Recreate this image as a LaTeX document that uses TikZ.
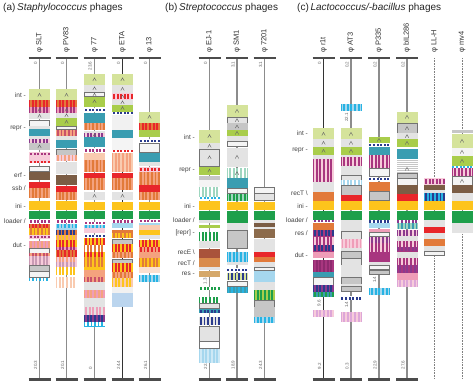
\documentclass[tikz,border=0pt]{standalone}
\usepackage{fontspec}
\setmainfont{Liberation Sans}
\definecolor{lgr}{HTML}{D5E39B}
\definecolor{lime}{HTML}{A9CD4B}
\definecolor{lgy}{HTML}{E3E3E3}
\definecolor{gry}{HTML}{C6C6C6}
\definecolor{wbx}{HTML}{F4F4F4}
\definecolor{cR}{HTML}{E8262A}
\definecolor{cO}{HTML}{E27A3A}
\definecolor{cS}{HTML}{F4A27E}
\definecolor{cP}{HTML}{F9CBB0}
\definecolor{cY}{HTML}{FDC41C}
\definecolor{cG}{HTML}{1E9F4B}
\definecolor{cT}{HTML}{3A9DB1}
\definecolor{cB}{HTML}{7B5D45}
\definecolor{cBb}{HTML}{8C6B4C}
\definecolor{cM}{HTML}{A8367F}
\definecolor{cMd}{HTML}{8E2A6E}
\definecolor{cU}{HTML}{8B3A8E}
\definecolor{cK}{HTML}{EF9DB8}
\definecolor{cL}{HTML}{F7CCDA}
\definecolor{cN}{HTML}{2A3B8D}
\definecolor{cC}{HTML}{27B3E3}
\definecolor{cLB}{HTML}{A6D7EE}
\definecolor{cPB}{HTML}{BBD5EE}
\definecolor{cMi}{HTML}{9FD6BF}
\definecolor{cRo}{HTML}{C8506A}
\definecolor{cMv}{HTML}{C99AB4}
\definecolor{cLP}{HTML}{DDA6D8}
\definecolor{cRB}{HTML}{A9533B}
\definecolor{cTn}{HTML}{D98B4B}
\definecolor{cLT}{HTML}{D5A86A}
\newcommand\Bx[3]{\fill[#3] (-10.5,#1) rectangle (10.5,#2);}
\newcommand\Sx[4]{\fill[#3] (-10.5,#1) rectangle (10.5,#2);\foreach \k in {0,...,5}{\fill[#4] ({-9.4+\k*3.6},#1) rectangle ({-7.8+\k*3.6},#2);}}
\newcommand\Dx[4]{\fill[#3] (-10.5,#1) rectangle (10.5,#2);\foreach \k in {0,...,5}{\fill[#4] ({-9.6+\k*3.6},{#1+0.5}) rectangle ({-7.6+\k*3.6},{#2-0.5});}}
\newcommand\Ox[3]{\filldraw[fill=#3,draw=black!55,line width=0.6pt] (-10,#1) rectangle (10,#2);}
\newcommand\Cr[1]{\draw[black!60,line width=0.45pt] (-1.7,{#1+1.4}) -- (0,{#1-1.6}) -- (1.7,{#1+1.4});}
\tikzset{
 gl/.style={draw=black!45,line width=1.3pt},
 bl/.style={draw=black!80,line width=1.3pt},
 dl/.style={draw=black!50,line width=0.8pt,dash pattern=on 0.8pt off 0.8pt},
 tbar/.style={draw=black!70,line width=2pt},
 bbar/.style={draw=black!70,line width=3pt},
 phl/.style={rotate=90,anchor=west,inner sep=0pt,font=\fontsize{7.5}{8}\selectfont,text=black!80},
 num/.style={rotate=90,inner sep=0pt,font=\fontsize{4.5}{5}\selectfont,text=black!60},
 lab/.style={anchor=east,inner sep=0pt,font=\fontsize{6.5}{7}\selectfont,text=black!75},
 ttl/.style={anchor=base west,inner sep=0pt,font=\fontsize{10}{11}\selectfont,text=black!85}
}
\begin{document}
\begin{tikzpicture}[x=1pt,y=-1pt]
\fill[white] (0,0) rectangle (474,382);
\useasboundingbox (0,0) rectangle (474,382);
% titles
\node[ttl] (ta) at (3,10.5) {(a)\,\textit{Staphylococcus} phages};
\node[ttl] (tb) at (165,10.5) {(b)\,\textit{Streptococcus} phages};
\node[ttl] (tc) at (297,10.5) {(c)\,\textit{Lactococcus/-bacillus} phages};
% left labels (a)
\node[lab] (a1) at (26,95) {int -};
\node[lab] (a2) at (26,128) {repr -};
\node[lab] (a3) at (26,175) {erf -};
\node[lab] (a4) at (26,188) {ssb /};
\node[lab] (a5) at (26,206) {ini -};
\node[lab] (a6) at (26,221.5) {loader /};
\node[lab] (a7) at (26,245) {dut -};
% left labels (b)
\node[lab] (b1) at (195,136.7) {int -};
\node[lab] (b2) at (195,170) {repr -};
\node[lab] (b3) at (195,206) {ini -};
\node[lab] (b4) at (195,220) {loader /};
\node[lab] (b5) at (195,232.7) {[repr] -};
\node[lab] (b6) at (195,252) {recE \textbackslash};
\node[lab] (b7) at (195,263.3) {recT /};
\node[lab] (b8) at (195,273.3) {res -};
% left labels (c)
\node[lab] (c1) at (308,132.7) {int -};
\node[lab] (c2) at (308,150.7) {repr -};
\node[lab] (c3) at (308,193.3) {recT \textbackslash};
\node[lab] (c4) at (308,206) {ini -};
\node[lab] (c5) at (308,220) {loader /};
\node[lab] (c6) at (308,232.7) {res /};
\node[lab] (c7) at (308,255) {dut -};
% ---------- SLT
\begin{scope}[xshift=39.5pt]
\draw[gl] (0,58) -- (0,379);
\draw[tbar] (-11,58) -- (11,58);
\draw[bbar] (-11,379.5) -- (11,379.5);
\node[phl] (pSLT) at (0,53) {φ SLT};
\node[num,anchor=east] (tSLT) at (-4,61.5) {0};
\node[num,anchor=west] (bSLT) at (-4,369.5) {20.3};
\Bx{89}{100.5}{lgr}\Cr{95}
\Sx{100.5}{106.7}{cR}{cO}
\Sx{106.7}{113}{cM}{cK}\Cr{110}
\Bx{113}{119}{lgy}\Cr{116}
\Ox{120}{126}{wbx}
\Bx{126}{129}{lgy}
\Bx{129}{136}{cT}
\Bx{136}{139.5}{lgy}
\Sx{139.5}{143}{cU}{cL}
\Bx{143}{150}{gry}\Cr{146.5}
\Dx{152.5}{155.5}{cL}{cM}
\Bx{155.5}{160.5}{cL}
\Dx{160.5}{163.5}{cL}{cR}
\Ox{166}{171.7}{wbx}
\Bx{172}{180}{cB}
\Bx{182}{188.5}{cR}
\Sx{188.5}{198}{cO}{cS}
\Bx{200.7}{210}{cY}
\Bx{211}{219.5}{cG}
\Dx{220}{223.5}{white}{cM}
\Sx{224}{228}{cR}{cO}
\Sx{228}{235}{cY}{cO}
\Dx{235.5}{238.7}{cL}{cM}
\Sx{241.5}{248}{cK}{cS}
\Ox{248}{253}{wbx}
\Sx{253}{256.5}{cRo}{cS}
\Sx{256.5}{265}{cMv}{cL}
\Ox{265}{271.5}{gry}
\Ox{271.5}{277.3}{wbx}
\Dx{277.5}{281}{cC}{white}
\end{scope}
% ---------- PV83
\begin{scope}[xshift=66.5pt]
\draw[gl] (0,58) -- (0,379);
\draw[tbar] (-11,58) -- (11,58);
\draw[bbar] (-11,379.5) -- (11,379.5);
\node[phl] (pPV) at (0,53) {φ PV83};
\node[num,anchor=east] (tPV) at (-4,61.5) {0};
\node[num,anchor=west] (bPV) at (-4,369.5) {20.1};
\Bx{89}{100.5}{lgr}\Cr{95}
\Sx{100.5}{106.7}{cR}{cO}
\Sx{106.7}{113}{cM}{cK}\Cr{110}
\Bx{113}{118}{lgy}\Cr{115.5}
\Bx{118}{126}{lime}\Cr{122}
\Ox{126.5}{129.5}{wbx}
\Sx{130}{136.5}{cS}{cRo}
\Bx{136.5}{140}{lgy}
\Bx{140}{148.5}{cT}
\Ox{149}{155}{gry}
\Sx{155.5}{161.5}{cL}{cS}
\Bx{162}{174.5}{lgy}
\Bx{175}{185}{cB}
\Bx{186}{191.7}{cR}
\Sx{191.7}{200}{cO}{cS}
\Bx{201.5}{210.5}{cY}
\Bx{211.5}{219.5}{cG}
\Dx{220}{223.3}{white}{cM}
\Sx{224}{228}{cLB}{cC}
\Bx{228}{230}{cLB}
\Sx{230}{235}{cN}{cO}
\Sx{235}{240}{cY}{cS}
\Sx{240}{246.7}{cR}{cY}
\Sx{246.7}{250}{cM}{cK}
\Sx{250}{256.7}{cO}{cR}
\Sx{256.7}{261.7}{cS}{cL}
\Sx{261.7}{266.7}{cMv}{cL}
\Sx{266.7}{275}{cY}{white}
\Sx{276.7}{287.5}{cP}{white}
\end{scope}
% ---------- 77
\begin{scope}[xshift=94.5pt]
\draw[gl] (0,58) -- (0,379);
\draw[tbar] (-11,58) -- (11,58);
\draw[bbar] (-11,379.5) -- (11,379.5);
\node[phl] (p77) at (0,53) {φ 77};
\node[num,anchor=east] (t77) at (-4.5,61.5) {23.6};
\node[num,anchor=west] (b77) at (-4,369.5) {0};
\Bx{74}{85}{lgr}\Cr{79.5}
\Bx{85}{92}{lgy}\Cr{88.5}
\Ox{92.5}{96.7}{wbx}\Cr{94.8}
\Bx{96.7}{106.7}{lime}\Cr{101.5}
\Dx{108.3}{111.7}{white}{cN}
\Bx{113.3}{123.3}{cT}
\Sx{123.3}{130}{cS}{cO}
\Bx{131.5}{133.5}{lgy}
\Sx{133.5}{137}{cU}{cL}\Cr{135.3}
\Bx{137.3}{146.7}{cT}
\Dx{148.3}{152.5}{white}{cM}
\Bx{153}{160}{cP}
\Sx{160}{171.7}{cS}{cO}
\Bx{172.7}{178.3}{cR}
\Sx{178.3}{190}{cO}{cS}
\Bx{191.7}{200}{lgy}\Cr{196}
\Bx{201.7}{210}{cY}
\Bx{211}{219.3}{cG}
\Dx{221.7}{225}{white}{cM}
\Sx{225}{228}{cLB}{cC}
\Bx{228}{233}{cL}
\Dx{235}{238}{white}{cN}
\Sx{238}{245}{cY}{cR}
\Sx{245}{251.7}{cO}{white}
\Sx{251.7}{256.7}{cR}{cY}
\Sx{256.7}{266.7}{cO}{cY}
\Bx{266.7}{270}{cY}
\Bx{270}{276.7}{cS}
\Sx{276.7}{281.7}{cRo}{cS}
\Bx{281.7}{290}{lgy}
\Sx{290}{298.3}{cS}{cK}
\Bx{298.3}{306.7}{lgy}
\Dx{306.7}{315}{lgy}{cK}
\Sx{315}{321.7}{cN}{cU}
\Dx{321.7}{326.7}{cC}{white}
\end{scope}
% ---------- ETA
\begin{scope}[xshift=122.5pt]
\draw[bl] (0,58) -- (0,379);
\draw[tbar] (-11,58) -- (11,58);
\draw[bbar] (-11,379.5) -- (11,379.5);
\node[phl] (pETA) at (0,53) {φ ETA};
\node[num,anchor=east] (tETA) at (-4,61.5) {0};
\node[num,anchor=west] (bETA) at (-4,369.5) {24.4};
\Bx{74}{85}{lgr}\Cr{79.5}
\Bx{85}{93.3}{lgy}\Cr{89}
\Dx{93.3}{100}{cL}{cR}\Cr{96.7}
\Bx{100}{105}{lgy}\Cr{102.5}
\Bx{105}{111.7}{lime}\Cr{108.3}
\Dx{111.7}{115}{white}{cN}
\Bx{115}{130}{lgy!50!white}
\Bx{130}{138.3}{cT}
\Bx{138.3}{150}{wbx}
\Dx{150}{152.7}{white}{cR}
\Sx{153}{171.7}{cS}{cP}
\Bx{173.3}{178.3}{cR}
\Sx{178.3}{190}{cO}{cS}
\Bx{191.7}{200}{lgy}\Cr{196}
\Bx{201.7}{210}{cY}
\Bx{211}{219.3}{cG}
\Dx{220}{223.3}{white}{cM}
\Bx{223.3}{228}{cLB}
\Bx{230}{233}{cO}
\Sx{233}{238}{cY}{cO}
\Ox{239}{244}{gry}
\Sx{244}{251.7}{cR}{cY}
\Sx{251.7}{258.3}{cS}{cO}
\Ox{259.3}{263.3}{gry}
\Sx{263.3}{271.7}{cR}{cY}
\Sx{271.7}{278.3}{cS}{cO}
\Sx{278.3}{286.7}{cY}{cP}
\Bx{286.7}{293.3}{lgy!50!white}
\Bx{293.3}{306.7}{cPB}
\end{scope}
% ---------- 13
\begin{scope}[xshift=149.5pt]
\draw[gl] (0,58) -- (0,379);
\draw[tbar] (-11,58) -- (11,58);
\draw[bbar] (-11,379.5) -- (11,379.5);
\node[phl] (p13) at (0,53) {φ 13};
\node[num,anchor=east] (t13) at (-4,61.5) {0};
\node[num,anchor=west] (b13) at (-4,369.5) {26.1};
\Bx{111.7}{123.3}{lgr}\Cr{117}
\Sx{123.3}{130}{cR}{cO}
\Bx{130}{136.7}{lime}
\Dx{139.3}{142.7}{white}{cN}
\Ox{143.3}{152.7}{wbx}
\Bx{152.7}{161.7}{cT}
\Bx{161.7}{166}{lgy}
\Dx{167.3}{171.7}{cL}{cR}
\Sx{171.7}{185}{cS}{cO}
\Bx{185}{191.7}{cR}
\Sx{191.7}{200}{cO}{cS}
\Bx{201.7}{210}{cY}
\Bx{211}{219.3}{cG}
\Dx{220}{223}{white}{cM}
\Bx{223}{225}{cLB}
\Bx{225}{230}{cP}
\Bx{230}{235}{cY}
\Bx{235}{239}{lgy}
\Sx{240}{246.7}{cR}{cY}
\Sx{246.7}{251.7}{cS}{cR}
\Bx{251.7}{258.3}{cS}
\Sx{258.3}{266.7}{cO}{cY}
\Bx{266.7}{273.3}{cP!60!white}
\Sx{275}{281.7}{cC}{cLB}
\end{scope}
% ---------- EJ-1
\begin{scope}[xshift=209.5pt]
\draw[gl] (0,58) -- (0,379);
\draw[tbar] (-11,58) -- (11,58);
\draw[bbar] (-11,379.5) -- (11,379.5);
\node[phl] (pEJ) at (0,53) {φ EJ-1};
\node[num,anchor=east] (tEJ) at (-4,61.5) {0};
\node[num,anchor=west] (bEJ) at (-4,369.5) {22.1};
\node[num,anchor=east] (mEJ) at (-4.5,278) {1.3};
\Bx{130}{142.7}{lgr}\Cr{136.3}
\Bx{142.7}{149.3}{lgy}\Cr{146}
\Ox{149.3}{166}{lgy}\Cr{157.5}
\Bx{166.7}{175}{lime}\Cr{170.8}
\Bx{176}{180}{gry}
\Bx{180}{186.7}{wbx}
\Sx{187.3}{196.7}{cMi}{white}
\Dx{196.7}{200}{white}{cC}
\Bx{200.7}{210}{cY}
\Bx{211}{220}{cG}
\Bx{220}{223.3}{lgy}
\Bx{225}{228.3}{lime}
\Sx{231.7}{240.7}{cG}{white}
\Bx{240.7}{248.3}{lgy}
\Bx{249.3}{258.3}{cRB}
\Bx{258.3}{266.7}{cTn}
\Bx{266.7}{270}{lgy}
\Bx{270.7}{276.7}{cLT}
\Dx{286.7}{290}{white}{cG}
\Sx{296.7}{303.3}{cG}{white}
\Ox{303.3}{308.3}{lgy}
\Dx{309.3}{313.3}{cT}{cN}
\Sx{316.7}{325}{lgy}{cN}
\Ox{326}{341.7}{lgy}
\Ox{341.7}{348.3}{white}
\Sx{349.3}{363.3}{cLB}{cLB!55!white}
\end{scope}
% ---------- SM1
\begin{scope}[xshift=237pt]
\draw[gl] (0,58) -- (0,379);
\draw[tbar] (-11,58) -- (11,58);
\draw[bbar] (-11,379.5) -- (11,379.5);
\node[phl] (pSM) at (0,53) {φ SM1};
\node[num,anchor=east] (tSM) at (-4,61.5) {3.1};
\node[num,anchor=west] (bSM) at (-4,369.5) {18.9};
\Bx{105}{117.3}{lgr}\Cr{111}
\Ox{117.3}{123.3}{lgy}\Cr{120.3}
\Bx{123.3}{130}{gry}\Cr{126.7}
\Bx{130}{136}{lime}\Cr{133}
\Bx{136}{141.7}{lgy}
\Ox{141.7}{146.7}{wbx}
\Bx{148.3}{166.7}{lgy}\Cr{157}
\Sx{168.3}{178.3}{cMi}{white}\Cr{173.3}
\Bx{178.3}{188.3}{cT}
\Ox{188.3}{193.3}{wbx}
\Sx{194}{200.7}{cG}{cMi}
\Bx{201.7}{210}{cY}
\Bx{211}{223}{cG}
\Bx{223}{230}{lgy}
\Ox{230}{248.3}{gry}
\Sx{251.7}{261.7}{cC}{cLB}
\Bx{261.7}{265}{lgy}
\Dx{268.3}{271.7}{white}{cN}
\Sx{272.7}{280}{lgr}{cN}
\Ox{281.7}{286.7}{wbx}
\Sx{286.7}{293.3}{cT}{cC}
\end{scope}
% ---------- 7201
\begin{scope}[xshift=264.5pt]
\draw[gl] (0,58) -- (0,379);
\draw[tbar] (-11,58) -- (11,58);
\draw[bbar] (-11,379.5) -- (11,379.5);
\node[phl] (p72) at (0,53) {φ 7201};
\node[num,anchor=east] (t72) at (-4,61.5) {3.1};
\node[num,anchor=west] (b72) at (-4,369.5) {24.3};
\Ox{187.3}{193.3}{wbx}
\Ox{193.3}{200}{lgy}
\Bx{201.7}{210}{cY}
\Bx{211}{220}{cG}
\Bx{220}{223.3}{lgy}
\Bx{223.3}{226.7}{cB}
\Bx{226.7}{229.3}{lgy}
\Bx{229.3}{238.3}{cBb}
\Bx{239.3}{251.7}{lgy}
\Bx{251.7}{257.3}{cR}
\Bx{257.3}{261.7}{cO}
\Bx{261.7}{266.7}{lgy}
\Ox{267.3}{270}{wbx}
\Bx{270.7}{281.7}{cLB}
\Bx{281.7}{290}{lgy}
\Sx{290}{300.7}{cG}{lime}
\Ox{300.7}{307.3}{gry}
\Bx{307.3}{316.7}{gry}
\Sx{316.7}{322.7}{cC}{cLB}
\end{scope}
% ---------- r1t
\begin{scope}[xshift=323.5pt]
\draw[bl] (0,58) -- (0,379);
\draw[tbar] (-11,58) -- (11,58);
\draw[bbar] (-11,379.5) -- (11,379.5);
\node[phl] (pr1) at (0,53) {φ r1t};
\node[num,anchor=east] (tr1) at (-4,61.5) {0};
\node[num,anchor=west] (br1) at (-4,369.5) {9.2};
\node[num,anchor=east] (mr1) at (-4.5,300) {9.6};
\Bx{128.3}{139.3}{lgr}\Cr{134}
\Bx{139.3}{146.7}{lgy}\Cr{143}
\Bx{146.7}{155}{lime}\Cr{151}
\Bx{155}{159.3}{lgy}
\Sx{159.3}{181.7}{cM}{cL}
\Bx{181.7}{191.7}{lgy}
\Bx{191.7}{200.7}{cO}
\Bx{200.7}{210}{cY}
\Bx{211}{220}{cG}
\Dx{220}{222.7}{white}{cU}
\Bx{222.7}{230}{cO}
\Dx{230}{236.7}{cM}{cN}
\Sx{236.7}{245}{cM}{cL}
\Dx{245}{251.7}{cM}{cN}
\Bx{251.7}{258.3}{cK}
\Sx{260}{271.7}{cMd}{cM}
\Bx{271.7}{277.3}{cT}
\Ox{277.3}{285}{wbx}
\Sx{285}{291.7}{cN}{cU}
\Sx{291.7}{297.3}{cT}{cG}
\Sx{310}{316.7}{cLP}{cL}
\end{scope}
% ---------- AT3
\begin{scope}[xshift=351pt]
\draw[gl] (0,58) -- (0,379);
\draw[tbar] (-11,58) -- (11,58);
\draw[bbar] (-11,379.5) -- (11,379.5);
\node[phl] (pAT) at (0,53) {φ AT3};
\node[num,anchor=east] (tAT) at (-4,61.5) {0.2};
\node[num,anchor=west] (bAT) at (-4,369.5) {0.3};
\node[num,anchor=east] (mAT) at (-4.5,113) {22.1};
\node[num,anchor=east] (nAT) at (-4.5,301.5) {1.4};
\Sx{104.5}{110.7}{cC}{cLB}
\Bx{128.3}{139.3}{lgr}\Cr{134}
\Bx{139.3}{146.7}{lgy}\Cr{143}
\Bx{146.7}{155}{lime}\Cr{151}
\Bx{155}{156.7}{lgy}
\Sx{156.7}{166}{cM}{cL}
\Bx{166}{175}{lgy}
\Ox{175}{180}{lgy}
\Sx{180}{185}{cLB}{white}
\Ox{185}{195}{gry}
\Bx{195}{200.7}{cR}
\Bx{200.7}{210}{cY}
\Bx{211}{220}{cG}
\Bx{220}{231.7}{lgy}
\Ox{231.7}{239.3}{lgy}
\Sx{239.3}{248.3}{cL}{cK}
\Bx{248.3}{251.7}{lgy}
\Ox{251.7}{258.3}{gry}
\Ox{258.3}{265}{lgy}
\Bx{265}{276.7}{lgy}
\Ox{277.3}{284}{gry}
\Bx{284}{286.7}{lgy}
\Ox{286.7}{291.7}{gry}
\Dx{296}{300}{white}{cN}
\Sx{311.7}{321.7}{cLP}{cL}
\end{scope}
% ---------- P335
\begin{scope}[xshift=379pt]
\draw[gl] (0,58) -- (0,379);
\draw[tbar] (-11,58) -- (11,58);
\draw[bbar] (-11,379.5) -- (11,379.5);
\node[phl] (pP3) at (0,53) {φ P335};
\node[num,anchor=east] (tP3) at (-4,61.5) {0.2};
\node[num,anchor=west] (bP3) at (-4,369.5) {22.9};
\node[num,anchor=east] (mP3) at (-4.5,276.5) {1.4};
\Bx{136.7}{143.3}{lime}\Cr{140}
\Dx{143.3}{146.7}{white}{cN}
\Bx{146.7}{155}{cT}
\Sx{155}{168.3}{cM}{cL}
\Ox{168.3}{176.7}{wbx}
\Dx{177.7}{180.7}{white}{cN}
\Bx{181.7}{191.7}{cO}
\Ox{191.7}{200.7}{gry}
\Bx{200.7}{210}{cY}
\Bx{211}{220}{cG}
\Dx{220}{223.3}{white}{cN}
\Bx{223.3}{228.3}{cLB}
\Bx{229}{231.7}{cK}
\Ox{232.7}{236.7}{wbx}
\Sx{236.7}{243.3}{cU}{cL}
\Sx{243.3}{251.7}{cM}{cL}
\Bx{251.7}{261.7}{cM}
\Bx{261.7}{265}{lgy}
\Ox{265}{269}{wbx}
\Ox{270}{274}{gry}
\Sx{288.3}{295}{cC}{cLB}
\end{scope}
% ---------- bIL286
\begin{scope}[xshift=407pt]
\draw[gl] (0,58) -- (0,379);
\draw[tbar] (-11,58) -- (11,58);
\draw[bbar] (-11,379.5) -- (11,379.5);
\node[phl] (pbI) at (0,53) {φ bIL286};
\node[num,anchor=east] (tbI) at (-4,61.5) {0.2};
\node[num,anchor=west] (bbI) at (-4,369.5) {27.6};
\Bx{111.7}{122.7}{lgr}\Cr{117}
\Ox{123.3}{133.3}{gry}\Cr{128.3}
\Bx{133.3}{139.3}{lgy}\Cr{136.3}
\Bx{139.3}{146.7}{lime}\Cr{143}
\Bx{146.7}{149.3}{white}
\Bx{149.3}{159.3}{cT}
\Bx{159.3}{173.3}{white}
\foreach \j in {0,...,6}{\fill[gry] (-10.5,{159.6+\j*2}) rectangle (10.5,{160.7+\j*2});}
\Cr{169}
\Ox{173.3}{178.3}{gry}
\Ox{178.3}{185}{wbx}
\Bx{185}{194}{cB}
\Bx{194}{200.7}{cR}
\Bx{200.7}{210}{cY}
\Bx{211}{220}{cG}
\Dx{220}{223.3}{white}{cU}
\Sx{223.3}{229.3}{cMi}{cT}
\Sx{230}{236}{cU}{cL}
\Bx{236}{240.7}{lgy}
\Sx{240.7}{246.7}{cM}{cL}
\Dx{246.7}{251.7}{cM}{cU}
\Bx{251.7}{258.3}{lgy}
\Sx{258.3}{265}{cM}{cL}
\Sx{265}{273.3}{cU}{cM}
\Bx{273.3}{280}{cK}
\Sx{280}{286.7}{cLP}{cL}
\end{scope}
% ---------- LL-H
\begin{scope}[xshift=434.5pt]
\draw[dl] (0,58) -- (0,379);
\node[phl] (pLL) at (0,53) {φ LL-H};
\Dx{178.3}{185}{cL}{cM}
\Bx{185}{190}{cB}
\Bx{190}{193.3}{lgy}
\Sx{193.3}{200.7}{cC}{cN}
\Bx{200.7}{210}{cY}
\Bx{211}{220}{cG}
\Bx{220}{226.7}{lgy}
\Bx{226.7}{232.7}{cR}
\Bx{232.7}{239.3}{lgy}
\Bx{239.3}{246}{cO}
\Bx{246}{251.7}{lgy}
\Ox{251.7}{255.7}{wbx}
\end{scope}
% ---------- mv4
\begin{scope}[xshift=462pt]
\draw[dl] (0,58) -- (0,379);
\node[phl] (pmv) at (0,53) {φ mv4};
\Bx{130}{133.3}{gry}
\Bx{134}{148.3}{lgr}\Cr{141}
\Bx{148.3}{156}{wbx}\Cr{152}
\Bx{156}{166}{lime}\Cr{161}
\Dx{166}{168.3}{white}{cC}
\Sx{168.3}{176.7}{cM}{cL}
\Ox{176.7}{185}{wbx}\Cr{181}
\Bx{185}{193.3}{cB}
\Bx{193.3}{200.7}{lgy}
\Bx{200.7}{210}{cY}
\Bx{211}{223}{cG}
\Bx{223}{232.7}{lgy}
\end{scope}
\end{tikzpicture}
\end{document}
